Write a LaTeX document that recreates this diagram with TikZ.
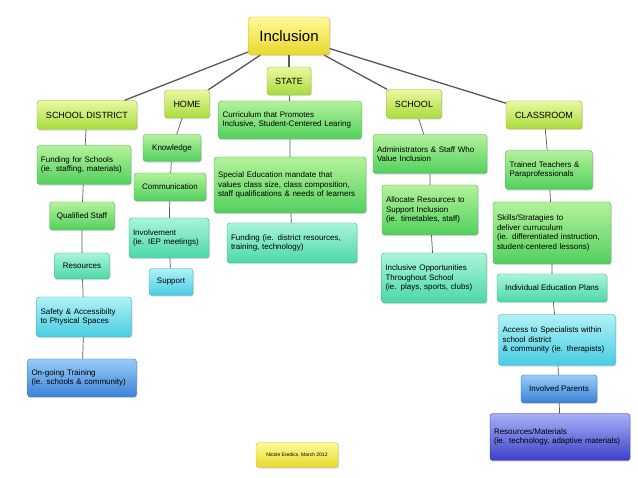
\documentclass[tikz,border=0pt]{standalone}
\usepackage{fontspec}
\setmainfont{Liberation Sans}
\usetikzlibrary{shadows}
\begin{document}
\begin{tikzpicture}[x=1pt,y=-1pt,
 box/.style={rounded corners=3pt,inner sep=4pt,align=left,font=\fontsize{8}{9.5}\selectfont,
   drop shadow={opacity=0.25,shadow xshift=1pt,shadow yshift=-1.2pt}},
 hdr/.style={box,align=center,top color=hdrT,bottom color=hdrB,draw=hdrD,font=\fontsize{9}{11}\selectfont},
 gr/.style={box,top color=grT,bottom color=grB,draw=grD},
 tl/.style={box,top color=tlT,bottom color=tlB,draw=tlD},
 cy/.style={box,top color=cyT,bottom color=cyB,draw=cyD},
 bl/.style={box,top color=blT,bottom color=blB,draw=blD},
 pu/.style={box,top color=puT,bottom color=puB,draw=puD},
 yl/.style={box,align=center,top color=ylT,bottom color=ylB,draw=ylD},
 link/.style={draw=black!65,line width=0.7pt},
 mlink/.style={draw=black!65,line width=1.3pt}]
\definecolor{hdrT}{HTML}{EAF8A0}\definecolor{hdrB}{HTML}{A8DC3C}\definecolor{hdrD}{HTML}{8AB83A}
\definecolor{grT}{HTML}{B4F29A}\definecolor{grB}{HTML}{52D05E}\definecolor{grD}{HTML}{48B058}
\definecolor{tlT}{HTML}{A8F5D8}\definecolor{tlB}{HTML}{4CD8A6}\definecolor{tlD}{HTML}{3FB08C}
\definecolor{cyT}{HTML}{B0F2F6}\definecolor{cyB}{HTML}{48CCE2}\definecolor{cyD}{HTML}{3AA8C0}
\definecolor{blT}{HTML}{98CCF6}\definecolor{blB}{HTML}{3A82D8}\definecolor{blD}{HTML}{3470B8}
\definecolor{puT}{HTML}{A8B0F6}\definecolor{puB}{HTML}{3C40C8}\definecolor{puD}{HTML}{3036A8}
\definecolor{ylT}{HTML}{FFFA9A}\definecolor{ylB}{HTML}{E8D82A}\definecolor{ylD}{HTML}{C8B830}
\useasboundingbox[fill=white] (0,0) rectangle (638,478);
% headers
\node[yl,minimum width=81pt,minimum height=38pt,font=\fontsize{15}{17}\selectfont] (inc) at (289,36) {Inclusion};
\node[hdr,minimum width=44pt,minimum height=28pt] (state) at (289,81) {STATE};
\node[hdr,minimum width=100pt,minimum height=29pt] (sd) at (87,115) {SCHOOL DISTRICT};
\node[hdr,minimum width=45pt,minimum height=28pt] (home) at (187,104) {HOME};
\node[hdr,minimum width=55pt,minimum height=29pt] (school) at (414,104) {SCHOOL};
\node[hdr,minimum width=76pt,minimum height=28pt] (class) at (544,115) {CLASSROOM};
% school district
\node[gr,text width=86pt,minimum height=39pt] (sd1) at (84,165) {Funding for Schools\\(ie. staffing, materials)};
\node[gr,align=center,minimum width=65pt,minimum height=28pt] (sd2) at (82,216) {Qualified Staff};
\node[tl,align=center,minimum width=55pt,minimum height=26pt] (sd3) at (82,266) {Resources};
\node[cy,text width=87pt,minimum height=40pt] (sd4) at (84,317) {Safety \& Accessibilty\\to Physical Spaces};
\node[bl,text width=101pt,minimum height=38pt] (sd5) at (82,378) {On-going Training\\(ie. schools \& community)};
% home
\node[gr,align=center,minimum width=58pt,minimum height=27pt] (h1) at (172,148) {Knowledge};
\node[gr,align=center,minimum width=72pt,minimum height=28pt] (h2) at (170,187) {Communication};
\node[tl,text width=72pt,minimum height=40pt] (h3) at (169,238) {Involvement\\(ie. IEP meetings)};
\node[cy,align=center,minimum width=44pt,minimum height=27pt] (h4) at (171,282) {Support};
% state
\node[gr,text width=135pt,minimum height=38pt] (s1) at (290,120) {Curriculum that Promotes\\Inclusive, Student-Centered Learing};
\node[gr,text width=144pt,minimum height=56pt] (s2) at (290,185) {Special Education mandate that\\values class size, class composition,\\staff qualifications \& needs of learners};
\node[tl,text width=122pt,minimum height=40pt] (s3) at (292,243) {Funding (ie. district resources,\\training, technology)};
% school
\node[gr,text width=106pt,minimum height=39pt] (c1) at (430,154) {Administrators \& Staff Who\\Value Inclusion};
\node[gr,text width=88pt,minimum height=50pt] (c2) at (430,210) {Allocate Resources to\\Support Inclusion\\(ie. timetables, staff)};
\node[tl,text width=97pt,minimum height=50pt] (c3) at (434,278) {Inclusive Opportunities\\Throughout School\\(ie. plays, sports, clubs)};
% classroom
\node[gr,text width=79pt,minimum height=39pt] (k1) at (549,170) {Trained Teachers \&\\Paraprofessionals};
\node[gr,text width=110pt,minimum height=62pt] (k2) at (552,233) { Skills/Stratagies to\\deliver curruculum\\(ie. differentiated instruction,\\student-centered lessons)};
\node[tl,align=center,minimum width=110pt,minimum height=28pt] (k3) at (552,288) {Individual Education Plans};
\node[cy,text width=109pt,minimum height=51pt] (k4) at (557,340) {Access to Specialists within\\school district\\\& community (ie. therapists)};
\node[bl,align=center,minimum width=76pt,minimum height=28pt] (k5) at (559,389) {Involved Parents};
\node[pu,text width=132pt,minimum height=47pt] (k6) at (560,437) {Resources/Materials\\(ie. technology, adaptive materials)};
% author
\node[yl,minimum width=82pt,minimum height=25pt,font=\fontsize{5}{6}\selectfont] (auth) at (297,455) {Nicole Eredics, March 2012};
% connectors
\begin{scope}[on background layer/.style={}]
\end{scope}
\foreach \t in {sd,home,state,school,class} \path[mlink] (inc) -- (\t);
\path[link] (sd) -- (sd1) (sd1) -- (sd2) (sd2) -- (sd3) (sd3) -- (sd4) (sd4) -- (sd5);
\path[link] (home) -- (h1) (h1) -- (h2) (h2) -- (h3) (h3) -- (h4);
\path[link] (state) -- (s1) (s1) -- (s2) (s2) -- (s3);
\path[link] (school) -- (c1) (c1) -- (c2) (c2) -- (c3);
\path[link] (class) -- (k1) (k1) -- (k2) (k2) -- (k3) (k3) -- (k4) (k4) -- (k5) (k5) -- (k6);
\end{tikzpicture}
\end{document}
